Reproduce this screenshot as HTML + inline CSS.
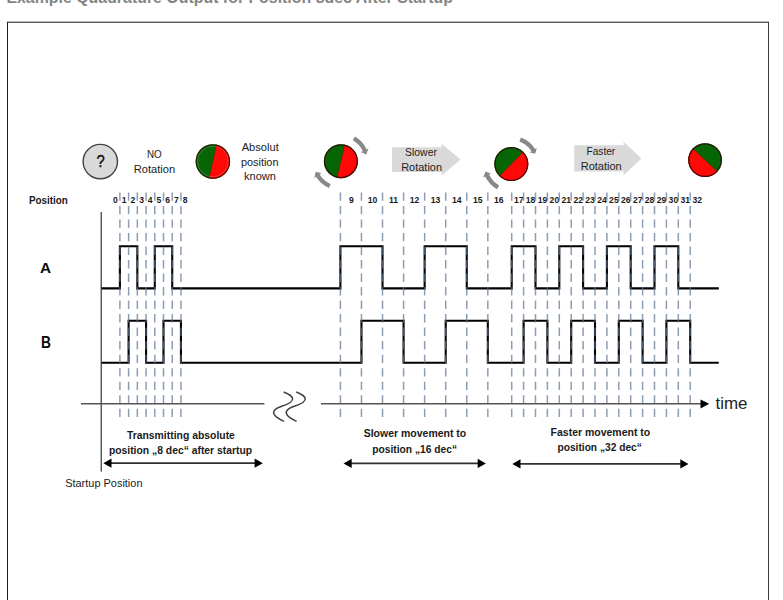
<!DOCTYPE html>
<html><head><meta charset="utf-8"><title>Quadrature Output</title>
<style>
html,body{margin:0;padding:0;background:#fff;}
body{width:783px;height:600px;overflow:hidden;position:relative;}
svg{position:absolute;left:0;top:0;display:block;font-family:"Liberation Sans",sans-serif;}
</style></head><body>
<svg width="783" height="600" viewBox="0 0 783 600">
<text x="6.4" y="3" font-weight="bold" font-size="16" fill="#858585" textLength="446.5" lengthAdjust="spacingAndGlyphs">Example Quadrature Output for Position 8dec After Startup</text>
<rect x="7" y="21" width="762" height="1" fill="#b5b5b5"/>
<rect x="7" y="22" width="762" height="1" fill="#5e5e5e"/>
<rect x="7" y="22" width="1" height="600" fill="#1e1e1e"/>
<rect x="768" y="22" width="1" height="600" fill="#3a3a3a"/>
<circle cx="100.3" cy="161.6" r="17.2" fill="#d9d9d9" stroke="#444" stroke-width="1.4"/>
<text x="100.5" y="167" font-size="16" text-anchor="middle" fill="#111" stroke="#111" stroke-width="0.45" textLength="8.2" lengthAdjust="spacingAndGlyphs">?</text>
<text x="154.4" y="158.2" font-size="10.5" text-anchor="middle" fill="#222" textLength="14.7" lengthAdjust="spacingAndGlyphs">NO</text>
<text x="154.4" y="172.9" font-size="10.8" text-anchor="middle" fill="#222" textLength="41.3" lengthAdjust="spacingAndGlyphs">Rotation</text>
<circle cx="212.85" cy="161.5" r="17.25" fill="#066606"/><path d="M216.55,144.65 A17.25,17.25 0 0 1 209.15,178.35 Z" fill="#ff0808"/><line x1="216.55" y1="144.65" x2="209.15" y2="178.35" stroke="#5a2000" stroke-opacity="0.5" stroke-width="0.9"/><circle cx="212.85" cy="161.5" r="16.65" fill="none" stroke="#2a0a00" stroke-opacity="0.7" stroke-width="1.2"/><circle cx="212.85" cy="161.5" r="15.35" fill="none" stroke="#fff" stroke-opacity="0.18" stroke-width="1"/>
<text x="260.2" y="151.4" font-size="10.8" text-anchor="middle" fill="#222" textLength="37.1" lengthAdjust="spacingAndGlyphs">Absolut</text>
<text x="259.7" y="165.5" font-size="10.8" text-anchor="middle" fill="#222" textLength="37.6" lengthAdjust="spacingAndGlyphs">position</text>
<text x="260" y="179.6" font-size="10.8" text-anchor="middle" fill="#222" textLength="31.9" lengthAdjust="spacingAndGlyphs">known</text>
<circle cx="340.9" cy="161.2" r="17.0" fill="#066606"/><path d="M344.72,144.64 A17.0,17.0 0 0 1 337.08,177.76 Z" fill="#ff0808"/><line x1="344.72" y1="144.64" x2="337.08" y2="177.76" stroke="#5a2000" stroke-opacity="0.5" stroke-width="0.9"/><circle cx="340.9" cy="161.2" r="16.4" fill="none" stroke="#2a0500" stroke-opacity="0.8" stroke-width="1.3"/>
<path d="M354.86,136.53 A28.349999999999998,28.349999999999998 0 0 1 366.70,149.44 L368.56,148.59 L366.21,154.42 L360.92,152.08 L362.78,151.23 A24.05,24.05 0 0 0 352.74,140.27 Z" fill="#888"/>
<path d="M328.96,188.01 A29.349999999999998,29.349999999999998 0 0 1 316.01,176.75 L314.19,177.89 L315.86,171.83 L321.48,173.34 L319.66,174.47 A25.05,25.05 0 0 0 330.71,184.08 Z" fill="#888"/>
<polygon points="392,147.2 441.5,147.2 441.5,143.7 460.5,159.6 441.5,175.7 441.5,171.9 392,171.9" fill="#d9d9d9"/>
<text x="421" y="155.8" font-size="10.5" text-anchor="middle" fill="#222" textLength="31.8" lengthAdjust="spacingAndGlyphs">Slower</text>
<text x="421.6" y="170.8" font-size="10.5" text-anchor="middle" fill="#222" textLength="40.9" lengthAdjust="spacingAndGlyphs">Rotation</text>
<circle cx="511.3" cy="164.0" r="17.0" fill="#066606"/><path d="M523.17,151.83 A17.0,17.0 0 0 1 499.43,176.17 Z" fill="#ff0808"/><line x1="523.17" y1="151.83" x2="499.43" y2="176.17" stroke="#5a2000" stroke-opacity="0.5" stroke-width="0.9"/><circle cx="511.3" cy="164.0" r="16.4" fill="none" stroke="#2a0500" stroke-opacity="0.8" stroke-width="1.3"/>
<path d="M520.93,137.55 A28.15,28.15 0 0 1 535.17,149.08 L536.91,148.00 L535.14,153.63 L529.79,152.45 L531.53,151.36 A23.85,23.85 0 0 0 519.46,141.59 Z" fill="#888"/>
<path d="M497.04,189.20 A28.95,28.95 0 0 1 485.17,176.46 L483.14,177.43 L485.54,171.39 L491.08,173.64 L489.05,174.61 A24.650000000000002,24.650000000000002 0 0 0 499.16,185.45 Z" fill="#888"/>
<polygon points="574.2,145.3 623.6,145.3 623.6,141.7 641.5,158.4 623.6,175.2 623.6,171.4 574.2,171.4" fill="#d9d9d9"/>
<text x="600.9" y="154.5" font-size="10.5" text-anchor="middle" fill="#222" textLength="28.7" lengthAdjust="spacingAndGlyphs">Faster</text>
<text x="601.2" y="169.5" font-size="10.5" text-anchor="middle" fill="#222" textLength="41" lengthAdjust="spacingAndGlyphs">Rotation</text>
<circle cx="705.1" cy="160.1" r="16.9" fill="#066606"/><path d="M717.46,171.63 A16.9,16.9 0 0 1 692.74,148.57 Z" fill="#ff0808"/><line x1="717.46" y1="171.63" x2="692.74" y2="148.57" stroke="#5a2000" stroke-opacity="0.5" stroke-width="0.9"/><circle cx="705.1" cy="160.1" r="16.299999999999997" fill="none" stroke="#2a0500" stroke-opacity="0.8" stroke-width="1.3"/>
<text x="28.9" y="203.8" font-size="10" font-weight="bold" fill="#1a1a1a" textLength="39" lengthAdjust="spacingAndGlyphs">Position</text>
<text x="115.30" y="203" font-size="8.6" font-weight="bold" text-anchor="middle" fill="#1a1a1a">0</text>
<text x="124.10" y="203" font-size="8.6" font-weight="bold" text-anchor="middle" fill="#1a1a1a">1</text>
<text x="132.82" y="203" font-size="8.6" font-weight="bold" text-anchor="middle" fill="#1a1a1a">2</text>
<text x="141.54" y="203" font-size="8.6" font-weight="bold" text-anchor="middle" fill="#1a1a1a">3</text>
<text x="150.26" y="203" font-size="8.6" font-weight="bold" text-anchor="middle" fill="#1a1a1a">4</text>
<text x="158.98" y="203" font-size="8.6" font-weight="bold" text-anchor="middle" fill="#1a1a1a">5</text>
<text x="167.70" y="203" font-size="8.6" font-weight="bold" text-anchor="middle" fill="#1a1a1a">6</text>
<text x="176.42" y="203" font-size="8.6" font-weight="bold" text-anchor="middle" fill="#1a1a1a">7</text>
<text x="185.14" y="203" font-size="8.6" font-weight="bold" text-anchor="middle" fill="#1a1a1a">8</text>
<text x="351.40" y="203" font-size="8.6" font-weight="bold" text-anchor="middle" fill="#1a1a1a">9</text>
<text x="372.46" y="203" font-size="8.6" font-weight="bold" text-anchor="middle" fill="#1a1a1a">10</text>
<text x="393.52" y="203" font-size="8.6" font-weight="bold" text-anchor="middle" fill="#1a1a1a">11</text>
<text x="414.58" y="203" font-size="8.6" font-weight="bold" text-anchor="middle" fill="#1a1a1a">12</text>
<text x="435.64" y="203" font-size="8.6" font-weight="bold" text-anchor="middle" fill="#1a1a1a">13</text>
<text x="456.70" y="203" font-size="8.6" font-weight="bold" text-anchor="middle" fill="#1a1a1a">14</text>
<text x="477.76" y="203" font-size="8.6" font-weight="bold" text-anchor="middle" fill="#1a1a1a">15</text>
<text x="498.82" y="203" font-size="8.6" font-weight="bold" text-anchor="middle" fill="#1a1a1a">16</text>
<text x="518.70" y="203" font-size="8.6" font-weight="bold" text-anchor="middle" fill="#1a1a1a">17</text>
<text x="530.60" y="203" font-size="8.6" font-weight="bold" text-anchor="middle" fill="#1a1a1a">18</text>
<text x="542.50" y="203" font-size="8.6" font-weight="bold" text-anchor="middle" fill="#1a1a1a">19</text>
<text x="554.40" y="203" font-size="8.6" font-weight="bold" text-anchor="middle" fill="#1a1a1a">20</text>
<text x="566.30" y="203" font-size="8.6" font-weight="bold" text-anchor="middle" fill="#1a1a1a">21</text>
<text x="578.20" y="203" font-size="8.6" font-weight="bold" text-anchor="middle" fill="#1a1a1a">22</text>
<text x="590.10" y="203" font-size="8.6" font-weight="bold" text-anchor="middle" fill="#1a1a1a">23</text>
<text x="602.00" y="203" font-size="8.6" font-weight="bold" text-anchor="middle" fill="#1a1a1a">24</text>
<text x="613.90" y="203" font-size="8.6" font-weight="bold" text-anchor="middle" fill="#1a1a1a">25</text>
<text x="625.80" y="203" font-size="8.6" font-weight="bold" text-anchor="middle" fill="#1a1a1a">26</text>
<text x="637.70" y="203" font-size="8.6" font-weight="bold" text-anchor="middle" fill="#1a1a1a">27</text>
<text x="649.60" y="203" font-size="8.6" font-weight="bold" text-anchor="middle" fill="#1a1a1a">28</text>
<text x="661.50" y="203" font-size="8.6" font-weight="bold" text-anchor="middle" fill="#1a1a1a">29</text>
<text x="673.40" y="203" font-size="8.6" font-weight="bold" text-anchor="middle" fill="#1a1a1a">30</text>
<text x="685.30" y="203" font-size="8.6" font-weight="bold" text-anchor="middle" fill="#1a1a1a">31</text>
<text x="697.20" y="203" font-size="8.6" font-weight="bold" text-anchor="middle" fill="#1a1a1a">32</text>
<line x1="101.2" y1="212" x2="101.2" y2="471.4" stroke="#222" stroke-width="1.1"/>
<text x="40.0" y="273.4" font-size="15.4" font-weight="bold" fill="#0a0a0a">A</text>
<text x="41.1" y="348.4" font-size="15.6" font-weight="bold" fill="#0a0a0a" textLength="9.95" lengthAdjust="spacingAndGlyphs">B</text>
<path d="M101.5,288.4 H119.90 V246.3 H137.34 V288.4 H154.78 V246.3 H172.22 V288.4 H340.40 V246.3 H382.52 V288.4 H424.64 V246.3 H466.76 V288.4 H511.70 V246.3 H535.50 V288.4 H559.30 V246.3 H583.10 V288.4 H606.90 V246.3 H630.70 V288.4 H654.50 V246.3 H678.30 V288.4 H718.8" fill="none" stroke="#000" stroke-width="2.1" stroke-linejoin="miter"/>
<path d="M101.5,362.8 H128.62 V320.7 H146.06 V362.8 H163.50 V320.7 H180.94 V362.8 H361.46 V320.7 H403.58 V362.8 H445.70 V320.7 H487.82 V362.8 H523.60 V320.7 H547.40 V362.8 H571.20 V320.7 H595.00 V362.8 H618.80 V320.7 H642.60 V362.8 H666.40 V320.7 H690.20 V362.8 H718.8" fill="none" stroke="#000" stroke-width="2.1" stroke-linejoin="miter"/>
<line x1="119.90" y1="192.4" x2="119.90" y2="418" stroke="#5c7394" stroke-opacity="0.7" stroke-width="1.5" stroke-dasharray="8.4 5.12"/>
<line x1="128.62" y1="192.4" x2="128.62" y2="418" stroke="#5c7394" stroke-opacity="0.7" stroke-width="1.5" stroke-dasharray="8.4 5.12"/>
<line x1="137.34" y1="192.4" x2="137.34" y2="418" stroke="#5c7394" stroke-opacity="0.7" stroke-width="1.5" stroke-dasharray="8.4 5.12"/>
<line x1="146.06" y1="192.4" x2="146.06" y2="418" stroke="#5c7394" stroke-opacity="0.7" stroke-width="1.5" stroke-dasharray="8.4 5.12"/>
<line x1="154.78" y1="192.4" x2="154.78" y2="418" stroke="#5c7394" stroke-opacity="0.7" stroke-width="1.5" stroke-dasharray="8.4 5.12"/>
<line x1="163.50" y1="192.4" x2="163.50" y2="418" stroke="#5c7394" stroke-opacity="0.7" stroke-width="1.5" stroke-dasharray="8.4 5.12"/>
<line x1="172.22" y1="192.4" x2="172.22" y2="418" stroke="#5c7394" stroke-opacity="0.7" stroke-width="1.5" stroke-dasharray="8.4 5.12"/>
<line x1="180.94" y1="192.4" x2="180.94" y2="418" stroke="#5c7394" stroke-opacity="0.7" stroke-width="1.5" stroke-dasharray="8.4 5.12"/>
<line x1="340.40" y1="192.4" x2="340.40" y2="418" stroke="#5c7394" stroke-opacity="0.7" stroke-width="1.5" stroke-dasharray="8.4 5.12"/>
<line x1="361.46" y1="192.4" x2="361.46" y2="418" stroke="#5c7394" stroke-opacity="0.7" stroke-width="1.5" stroke-dasharray="8.4 5.12"/>
<line x1="382.52" y1="192.4" x2="382.52" y2="418" stroke="#5c7394" stroke-opacity="0.7" stroke-width="1.5" stroke-dasharray="8.4 5.12"/>
<line x1="403.58" y1="192.4" x2="403.58" y2="418" stroke="#5c7394" stroke-opacity="0.7" stroke-width="1.5" stroke-dasharray="8.4 5.12"/>
<line x1="424.64" y1="192.4" x2="424.64" y2="418" stroke="#5c7394" stroke-opacity="0.7" stroke-width="1.5" stroke-dasharray="8.4 5.12"/>
<line x1="445.70" y1="192.4" x2="445.70" y2="418" stroke="#5c7394" stroke-opacity="0.7" stroke-width="1.5" stroke-dasharray="8.4 5.12"/>
<line x1="466.76" y1="192.4" x2="466.76" y2="418" stroke="#5c7394" stroke-opacity="0.7" stroke-width="1.5" stroke-dasharray="8.4 5.12"/>
<line x1="487.82" y1="192.4" x2="487.82" y2="418" stroke="#5c7394" stroke-opacity="0.7" stroke-width="1.5" stroke-dasharray="8.4 5.12"/>
<line x1="511.70" y1="192.4" x2="511.70" y2="418" stroke="#5c7394" stroke-opacity="0.7" stroke-width="1.5" stroke-dasharray="8.4 5.12"/>
<line x1="523.60" y1="192.4" x2="523.60" y2="418" stroke="#5c7394" stroke-opacity="0.7" stroke-width="1.5" stroke-dasharray="8.4 5.12"/>
<line x1="535.50" y1="192.4" x2="535.50" y2="418" stroke="#5c7394" stroke-opacity="0.7" stroke-width="1.5" stroke-dasharray="8.4 5.12"/>
<line x1="547.40" y1="192.4" x2="547.40" y2="418" stroke="#5c7394" stroke-opacity="0.7" stroke-width="1.5" stroke-dasharray="8.4 5.12"/>
<line x1="559.30" y1="192.4" x2="559.30" y2="418" stroke="#5c7394" stroke-opacity="0.7" stroke-width="1.5" stroke-dasharray="8.4 5.12"/>
<line x1="571.20" y1="192.4" x2="571.20" y2="418" stroke="#5c7394" stroke-opacity="0.7" stroke-width="1.5" stroke-dasharray="8.4 5.12"/>
<line x1="583.10" y1="192.4" x2="583.10" y2="418" stroke="#5c7394" stroke-opacity="0.7" stroke-width="1.5" stroke-dasharray="8.4 5.12"/>
<line x1="595.00" y1="192.4" x2="595.00" y2="418" stroke="#5c7394" stroke-opacity="0.7" stroke-width="1.5" stroke-dasharray="8.4 5.12"/>
<line x1="606.90" y1="192.4" x2="606.90" y2="418" stroke="#5c7394" stroke-opacity="0.7" stroke-width="1.5" stroke-dasharray="8.4 5.12"/>
<line x1="618.80" y1="192.4" x2="618.80" y2="418" stroke="#5c7394" stroke-opacity="0.7" stroke-width="1.5" stroke-dasharray="8.4 5.12"/>
<line x1="630.70" y1="192.4" x2="630.70" y2="418" stroke="#5c7394" stroke-opacity="0.7" stroke-width="1.5" stroke-dasharray="8.4 5.12"/>
<line x1="642.60" y1="192.4" x2="642.60" y2="418" stroke="#5c7394" stroke-opacity="0.7" stroke-width="1.5" stroke-dasharray="8.4 5.12"/>
<line x1="654.50" y1="192.4" x2="654.50" y2="418" stroke="#5c7394" stroke-opacity="0.7" stroke-width="1.5" stroke-dasharray="8.4 5.12"/>
<line x1="666.40" y1="192.4" x2="666.40" y2="418" stroke="#5c7394" stroke-opacity="0.7" stroke-width="1.5" stroke-dasharray="8.4 5.12"/>
<line x1="678.30" y1="192.4" x2="678.30" y2="418" stroke="#5c7394" stroke-opacity="0.7" stroke-width="1.5" stroke-dasharray="8.4 5.12"/>
<line x1="690.20" y1="192.4" x2="690.20" y2="418" stroke="#5c7394" stroke-opacity="0.7" stroke-width="1.5" stroke-dasharray="8.4 5.12"/>
<line x1="81" y1="403.8" x2="264.4" y2="403.8" stroke="#555" stroke-width="1.6"/>
<line x1="321" y1="403.8" x2="701" y2="403.8" stroke="#555" stroke-width="1.6"/>
<polygon points="700.5,399.4 709.2,403.8 700.5,408.4" fill="#000"/>
<text x="715.5" y="409.2" font-size="17" fill="#222" textLength="32" lengthAdjust="spacingAndGlyphs">time</text>
<path d="M283.7,392 C292,395.3 300,400.5 281,406.5 C268.5,410.5 273.5,417 284,421.3" fill="none" stroke="#3c3c3c" stroke-width="1.45"/>
<path d="M296.3,392 C304.6,395.3 312.6,400.5 293.6,406.5 C281.1,410.5 286.1,417 296.6,421.3" fill="none" stroke="#3c3c3c" stroke-width="1.45"/>
<text x="126.9" y="439.4" font-size="10.5" font-weight="bold" fill="#1a1a1a" textLength="108" lengthAdjust="spacingAndGlyphs">Transmitting absolute</text>
<text x="108.9" y="454" font-size="10.5" font-weight="bold" fill="#1a1a1a" textLength="143.2" lengthAdjust="spacingAndGlyphs">position „8 dec“ after startup</text>
<line x1="109.3" y1="463.2" x2="256.8" y2="463.2" stroke="#303030" stroke-width="1.7"/><polygon points="103.3,463.2 111.5,458.59999999999997 111.5,467.8" fill="#000"/><polygon points="262.8,463.2 254.60000000000002,458.59999999999997 254.60000000000002,467.8" fill="#000"/>
<text x="363.7" y="437.4" font-size="10.5" font-weight="bold" fill="#1a1a1a" textLength="102.6" lengthAdjust="spacingAndGlyphs">Slower movement to</text>
<text x="372.3" y="452.6" font-size="10.5" font-weight="bold" fill="#1a1a1a" textLength="84.7" lengthAdjust="spacingAndGlyphs">position „16 dec“</text>
<line x1="349.5" y1="463.4" x2="479.9" y2="463.4" stroke="#303030" stroke-width="1.7"/><polygon points="343.5,463.4 351.7,458.79999999999995 351.7,468.0" fill="#000"/><polygon points="485.9,463.4 477.7,458.79999999999995 477.7,468.0" fill="#000"/>
<text x="550.6" y="436.1" font-size="10.5" font-weight="bold" fill="#1a1a1a" textLength="99.6" lengthAdjust="spacingAndGlyphs">Faster movement to</text>
<text x="557.5" y="451.2" font-size="10.5" font-weight="bold" fill="#1a1a1a" textLength="84.3" lengthAdjust="spacingAndGlyphs">position „32 dec“</text>
<line x1="518.3" y1="463.9" x2="682.5" y2="463.9" stroke="#303030" stroke-width="1.7"/><polygon points="512.3,463.9 520.5,459.29999999999995 520.5,468.5" fill="#000"/><polygon points="688.5,463.9 680.3,459.29999999999995 680.3,468.5" fill="#000"/>
<text x="65.2" y="486.7" font-size="10.8" fill="#222" textLength="77.3" lengthAdjust="spacingAndGlyphs">Startup Position</text>
</svg>
</body></html>
